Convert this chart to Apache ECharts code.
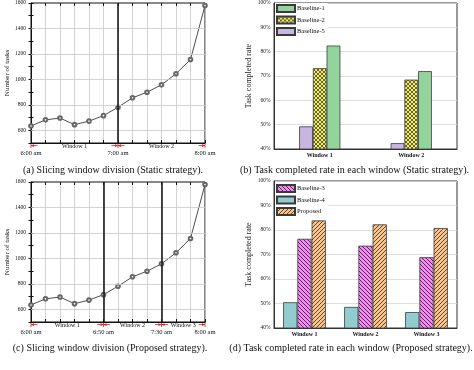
<!DOCTYPE html>
<html><head><meta charset="utf-8">
<script src="https://cdn.jsdelivr.net/npm/echarts@6/dist/echarts.min.js"></script>
<style>html,body{margin:0;padding:0;background:#fff}#c{width:474px;height:370px}</style>
</head><body><div id="c"></div>
<script>
// ---- data ----
const minutes = [0, 10, 20, 30, 40, 50, 60, 70, 80, 90, 100, 110, 120];
const tasks = [634, 682, 696, 644, 672, 715, 781, 855, 899, 957, 1044, 1156, 1580];
const taskGrid = [600, 800, 1000, 1200, 1400];
const staticBounds = [0, 60, 120];
const staticBoundLabels = ['6:00 am', '7:00 am', '8:00 am'];
const staticWindows = ['Window 1', 'Window 2'];
const propBounds = [0, 50, 90, 120];
const propBoundLabels = ['6:00 am', '6:50 am', '7:30 am', '8:00 am'];
const propWindows = ['Window 1', 'Window 2', 'Window 3'];

const catsStatic = ['Window 1', 'Window 2'];
const baseline1 = [82.5, 72.0];
const baseline2 = [73.2, 68.5];
const baseline5 = [49.3, 42.4];

const catsProp = ['Window 1', 'Window 2', 'Window 3'];
const baseline4 = [50.5, 48.6, 46.5];
const baseline3 = [76.4, 73.6, 68.9];
const proposed = [83.9, 82.3, 80.8];

const captions = [
  '(a) Slicing window division (Static strategy).',
  '(b) Task completed rate in each window (Static strategy).',
  '(c) Slicing window division (Proposed strategy).',
  '(d) Task completed rate in each window (Proposed strategy).'
];

// ---- helpers ----
const F = 'Liberation Serif';
function pattern(bg, fg, kind, lw) {
  const s = 4;
  const c = document.createElement('canvas');
  c.width = s; c.height = s;
  const g = c.getContext('2d');
  g.fillStyle = bg; g.fillRect(0, 0, s, s);
  g.strokeStyle = fg; g.lineWidth = lw;
  g.beginPath();
  if (kind === 'slash' || kind === 'cross') {
    g.moveTo(-1, s + 1); g.lineTo(s + 1, -1);
    g.moveTo(-1, 1); g.lineTo(1, -1);
    g.moveTo(s - 1, s + 1); g.lineTo(s + 1, s - 1);
  }
  if (kind === 'back' || kind === 'cross') {
    g.moveTo(-1, -1); g.lineTo(s + 1, s + 1);
    g.moveTo(s - 1, -1); g.lineTo(s + 1, 1);
    g.moveTo(-1, s - 1); g.lineTo(1, s + 1);
  }
  g.stroke();
  return { image: c, repeat: 'repeat' };
}
const pts = minutes.map((m, i) => [m, tasks[i]]);

function timeAxis(gridIndex, bounds, labels) {
  return {
    type: 'value', gridIndex, min: 0, max: 120, interval: 10, position: 'bottom',
    axisLine: { show: true, lineStyle: { color: '#111', width: 1 } },
    axisTick: { show: true, inside: true, length: 3, lineStyle: { color: '#111' } },
    splitLine: { show: true, lineStyle: { color: '#c8c8c8', width: 0.8 } },
    axisLabel: {
      margin: 7, fontSize: 6.5, color: '#111', fontFamily: F,
      formatter: v => { const k = bounds.indexOf(v); return k >= 0 ? labels[k] : ''; }
    }
  };
}
function topAxis(gridIndex) {
  return {
    type: 'value', gridIndex, min: 0, max: 120, interval: 10, position: 'top',
    axisLine: { show: false }, axisLabel: { show: false }, splitLine: { show: false },
    axisTick: { show: true, inside: true, length: 3, lineStyle: { color: '#111' } }
  };
}
function taskAxis(gridIndex) {
  return {
    type: 'value', gridIndex, min: 500, max: 1600, interval: 100,
    name: 'Number of tasks', nameLocation: 'middle', nameGap: 19,
    nameTextStyle: { fontFamily: F, fontSize: 7, color: '#111' },
    axisLine: { show: true, lineStyle: { color: '#111' } },
    axisTick: { show: true, inside: true, length: 2.5, lineStyle: { color: '#111' } },
    splitLine: { show: false },
    axisLabel: { margin: 5, fontSize: 5.5, color: '#111', fontFamily: F,
      formatter: v => (v % 200 === 0 ? String(v) : '') }
  };
}
function rightAxis(gridIndex) {
  return {
    type: 'value', gridIndex, min: 500, max: 1600, interval: 100, position: 'right',
    axisLine: { show: false }, axisLabel: { show: false }, splitLine: { show: false },
    axisTick: { show: true, inside: true, length: 2.5, lineStyle: { color: '#111' } }
  };
}
function rateAxis(gridIndex) {
  return {
    type: 'value', gridIndex, min: 40, max: 100, interval: 10,
    name: 'Task completed rate', nameLocation: 'middle', nameGap: 21,
    nameTextStyle: { fontFamily: F, fontSize: 8, color: '#222' },
    axisLine: { show: true, lineStyle: { color: '#333' } },
    axisTick: { show: false },
    splitLine: { show: true, lineStyle: { color: '#d6d6d6', width: 0.8 } },
    axisLabel: { margin: 3.5, fontSize: 5.5, color: '#222', fontFamily: F, formatter: '{value}%' }
  };
}
function catAxis(gridIndex, cats) {
  return {
    type: 'category', gridIndex, data: cats,
    axisLine: { show: true, lineStyle: { color: '#333' } },
    axisTick: { show: false },
    axisLabel: { margin: 3, fontSize: 6, fontWeight: 'bold', color: '#111', fontFamily: F }
  };
}
function lineSeries(xi, yi, bounds) {
  return {
    type: 'line', xAxisIndex: xi, yAxisIndex: yi, data: pts,
    symbol: 'emptyCircle', symbolSize: 3.6,
    lineStyle: { color: '#3a3a3a', width: 0.9 },
    itemStyle: { color: '#666', borderWidth: 0.6 },
    markLine: {
      silent: true, symbol: 'none', label: { show: false },
      lineStyle: { color: '#1a1a1a', width: 1.6, type: 'solid' },
      data: taskGrid.map(v => ({ yAxis: v, lineStyle: { color: '#c8c8c8', width: 0.8, type: 'solid' } }))
        .concat(bounds.slice(1, -1).map(b => ({ xAxis: b, lineStyle: { color: '#1a1a1a', width: 1.6, type: 'solid' } })))
    },
    z: 3
  };
}
const bar = { type: 'bar', barGap: 0 };
const bs = c => ({ color: c, borderColor: '#3a3a3a', borderWidth: 0.8 });

const option = {
  animation: false,
  backgroundColor: '#fff',
  textStyle: { fontFamily: F },
  grid: [
    { left: 31, top: 3, width: 174, height: 140, show: true, borderColor: '#111', borderWidth: 1 },
    { left: 31, top: 182, width: 174, height: 140, show: true, borderColor: '#111', borderWidth: 1 },
    { left: 274, top: 1, width: 183, height: 148, show: true, borderColor: '#333', borderWidth: 1 },
    { left: 274, top: 181, width: 183, height: 147, show: true, borderColor: '#333', borderWidth: 1 }
  ],
  xAxis: [
    timeAxis(0, staticBounds, staticBoundLabels),
    timeAxis(1, propBounds, propBoundLabels),
    catAxis(2, catsStatic),
    catAxis(3, catsProp),
    topAxis(0), topAxis(1)
  ],
  yAxis: [taskAxis(0), taskAxis(1), rateAxis(2), rateAxis(3), rightAxis(0), rightAxis(1)],
  legend: [
    { data: ['Baseline-1', 'Baseline-2', 'Baseline-5'], left: 275, top: 3, orient: 'vertical',
      icon: 'rect', itemWidth: 18, itemHeight: 7, itemGap: 2.5, backgroundColor: '#fff',
      padding: [1, 3, 1, 1], textStyle: { fontFamily: F, fontSize: 6.5, color: '#111', padding: [0, 0, 0, -3] } },
    { data: ['Baseline-3', 'Baseline-4', 'Proposed'], left: 275, top: 183, orient: 'vertical',
      icon: 'rect', itemWidth: 18, itemHeight: 7, itemGap: 2.5, backgroundColor: '#fff',
      padding: [1, 3, 1, 1], textStyle: { fontFamily: F, fontSize: 6.5, color: '#111', padding: [0, 0, 0, -3] } }
  ],
  series: [
    lineSeries(0, 0, staticBounds),
    lineSeries(1, 1, propBounds),
    Object.assign({}, bar, { name: 'Baseline-5', xAxisIndex: 2, yAxisIndex: 2, data: baseline5, barCategoryGap: '55%', itemStyle: bs('#c8b5e2') }),
    Object.assign({}, bar, { name: 'Baseline-2', xAxisIndex: 2, yAxisIndex: 2, data: baseline2, barCategoryGap: '55%', itemStyle: bs(pattern('#f4ee66', '#2a2a2a', 'cross', 0.7)) }),
    Object.assign({}, bar, { name: 'Baseline-1', xAxisIndex: 2, yAxisIndex: 2, data: baseline1, barCategoryGap: '55%', itemStyle: bs('#93d49c') }),
    Object.assign({}, bar, { name: 'Baseline-4', xAxisIndex: 3, yAxisIndex: 3, data: baseline4, barCategoryGap: '30%', itemStyle: bs('#93ccd0') }),
    Object.assign({}, bar, { name: 'Baseline-3', xAxisIndex: 3, yAxisIndex: 3, data: baseline3, barCategoryGap: '30%', itemStyle: bs(pattern('#f28ef0', '#4a1848', 'back', 0.9)) }),
    Object.assign({}, bar, { name: 'Proposed', xAxisIndex: 3, yAxisIndex: 3, data: proposed, barCategoryGap: '30%', itemStyle: bs(pattern('#f7c690', '#5a3818', 'slash', 0.9)) })
  ]
};

const chart = echarts.init(document.getElementById('c'), null, { renderer: 'canvas' });
chart.setOption(option);

// window annotations below the time axes, placed through the axis scales
const graphics = [];
function annotate(xi, yi, bounds, wins) {
  const px = v => chart.convertToPixel({ xAxisIndex: xi }, v);
  const yb = chart.convertToPixel({ yAxisIndex: yi }, 500);
  const ya = yb + 2.6;
  const red = '#e0201a';
  bounds.forEach(b => {
    const x = px(b);
    graphics.push({ type: 'line', silent: true, shape: { x1: x, y1: yb, x2: x, y2: yb + 5 }, style: { stroke: red, lineWidth: 0.8 } });
  });
  wins.forEach((w, i) => {
    const xs = px(bounds[i]), xe = px(bounds[i + 1]);
    graphics.push({ type: 'line', silent: true, shape: { x1: xs, y1: ya, x2: xs + 6.5, y2: ya }, style: { stroke: red, lineWidth: 0.8 } });
    graphics.push({ type: 'polygon', silent: true, shape: { points: [[xs, ya], [xs + 3, ya - 1.3], [xs + 3, ya + 1.3]] }, style: { fill: red } });
    graphics.push({ type: 'line', silent: true, shape: { x1: xe - 6.5, y1: ya, x2: xe, y2: ya }, style: { stroke: red, lineWidth: 0.8 } });
    graphics.push({ type: 'polygon', silent: true, shape: { points: [[xe, ya], [xe - 3, ya - 1.3], [xe - 3, ya + 1.3]] }, style: { fill: red } });
    graphics.push({ type: 'text', silent: true, x: (xs + xe) / 2, y: yb + 3.6,
      style: { text: w, fill: '#111', font: '6px "Liberation Serif"', textAlign: 'center', textVerticalAlign: 'middle' } });
  });
}
annotate(0, 0, staticBounds, staticWindows);
annotate(1, 1, propBounds, propWindows);

const capPos = [[113, 170], [354.5, 170], [110, 348], [351, 348]];
captions.forEach((t, i) => {
  graphics.push({ type: 'text', silent: true, x: capPos[i][0], y: capPos[i][1],
    style: { text: t, fill: '#111', font: '10px "Liberation Serif"', textAlign: 'center', textVerticalAlign: 'middle' } });
});
chart.setOption({ graphic: graphics });
</script>
</body></html>
